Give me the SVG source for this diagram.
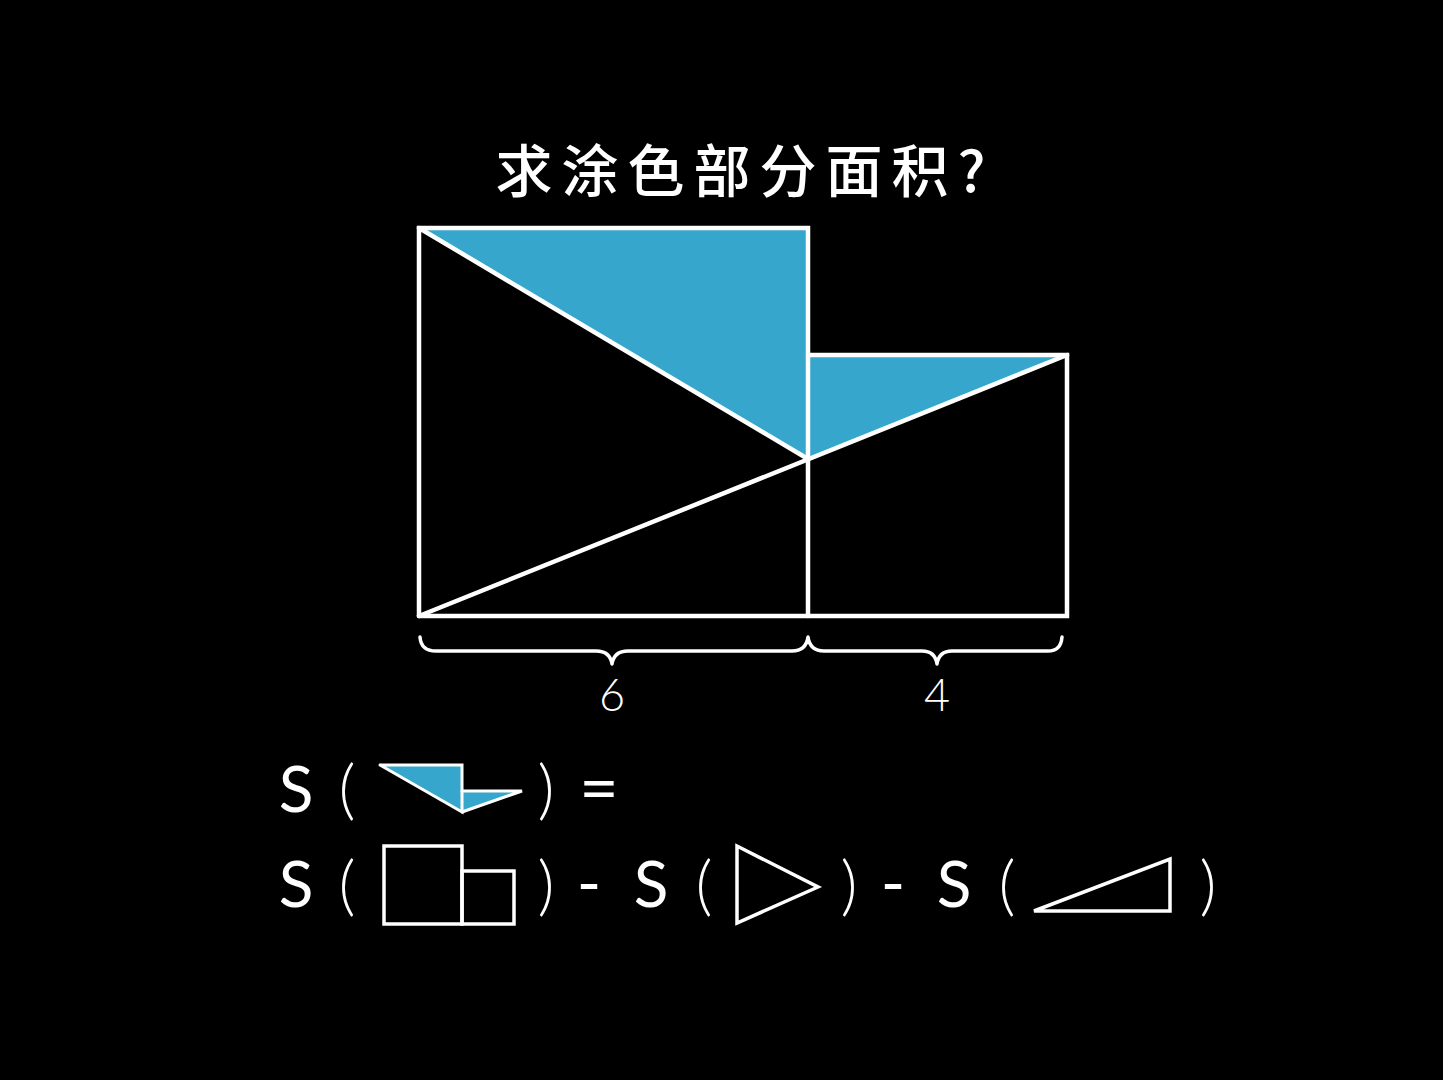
<svg xmlns="http://www.w3.org/2000/svg" width="1443" height="1080" viewBox="0 0 1443 1080">
<style>
.ln{stroke:#fff;stroke-width:4.5;fill:none;stroke-linejoin:miter;stroke-linecap:round}
.sh{fill:#36a6cc}
.t{fill:#fff;font-family:Lato,"Open Sans","Liberation Sans",sans-serif;font-weight:300}
.s{fill:#fff;font-family:Lato,"Open Sans","Liberation Sans",sans-serif;font-weight:400}
.ttl{fill:#fff;font-family:"Noto Sans CJK SC",sans-serif;font-weight:500}
.br{stroke:#fff;stroke-width:3.5;fill:none;stroke-linecap:round;stroke-linejoin:round}
</style>
<rect width="1443" height="1080" fill="#000"/>
<g id="title"><text class="ttl" x="745" y="192" font-size="57" text-anchor="middle" letter-spacing="9">求涂色部分面积?</text></g>
<g id="figure">
<polygon class="sh" points="419,228 808,228 808,459"/>
<polygon class="sh" points="808,355 1067,355 808,459"/>
<polyline class="ln" points="419,616 419,228 808,228 808,616"/>
<polyline class="ln" points="808,355 1067,355 1067,616 419,616"/>
<line class="ln" x1="419" y1="228" x2="808" y2="459"/>
<line class="ln" x1="419" y1="616" x2="1067" y2="355"/>
</g>
<g id="braces">
<path class="br" d="M420,637 Q421,651 436,651 L596,651 Q610,651 612,664 Q614,651 628,651 L792,651 Q806,651 808,637 Q810,651 824,651 L922,651 Q935,651 937,664 Q939,651 952,651 L1048,651 Q1061,651 1062,637"/>
</g>
<g id="labels">
<text class="t" x="612" y="711" font-size="45" text-anchor="middle">6</text>
<text class="t" x="937" y="711" font-size="45" text-anchor="middle">4</text>
</g>
<g id="formula1">
<text class="s" x="296" y="812" font-size="64" text-anchor="middle">S</text>
<text class="t" x="347" y="812" font-size="66" text-anchor="middle">(</text>
<polygon class="sh" points="380,765 462,765 462,791 522,791 462,812"/>
<polyline class="ln" style="stroke-width:3" points="380,765 462,765 462,812 380,765"/>
<polyline class="ln" style="stroke-width:3" points="462,791 522,791 462,812"/>
<text class="t" x="546" y="812" font-size="66" text-anchor="middle">)</text>
<text class="s" x="599" y="812" font-size="68" text-anchor="middle">=</text>
</g>
<g id="formula2">
<text class="s" x="296" y="907" font-size="64" text-anchor="middle">S</text>
<text class="t" x="347" y="908" font-size="66" text-anchor="middle">(</text>
<rect class="ln" style="stroke-width:3.5" x="384" y="846" width="78" height="78"/>
<rect class="ln" style="stroke-width:3.5" x="462" y="871" width="52" height="53"/>
<text class="t" x="546" y="908" font-size="66" text-anchor="middle">)</text>
<text class="s" x="589" y="906" font-size="66" text-anchor="middle" font-weight="700">-</text>
<text class="s" x="651" y="907" font-size="64" text-anchor="middle">S</text>
<text class="t" x="704" y="908" font-size="66" text-anchor="middle">(</text>
<polygon class="ln" style="stroke-width:3.5" points="737,846 737,923 818,887"/>
<text class="t" x="849" y="908" font-size="66" text-anchor="middle">)</text>
<text class="s" x="893" y="906" font-size="66" text-anchor="middle" font-weight="700">-</text>
<text class="s" x="954" y="907" font-size="64" text-anchor="middle">S</text>
<text class="t" x="1007" y="908" font-size="66" text-anchor="middle">(</text>
<polygon class="ln" style="stroke-width:3.5" points="1034,911 1170,859 1170,911"/>
<text class="t" x="1208" y="908" font-size="66" text-anchor="middle">)</text>
</g>
</svg>
